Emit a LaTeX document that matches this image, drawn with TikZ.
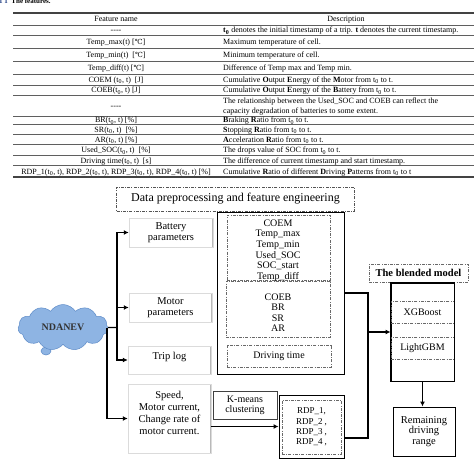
\documentclass[tikz,border=0pt]{standalone}
\usepackage{fontspec}
\setmainfont{Liberation Serif}
\newfontfamily\symfont{DejaVu Serif}
\usetikzlibrary{shapes.symbols,shapes.geometric,shadows,arrows.meta,calc}
\definecolor{cloudfill}{RGB}{142,180,227}
\definecolor{cloudline}{RGB}{95,140,200}
\definecolor{rulegray}{RGB}{95,95,95}
\definecolor{dashgray}{RGB}{105,105,105}
\definecolor{capblue}{RGB}{30,60,130}
\newcommand{\degC}{{\symfont\fontsize{7}{8}\selectfont ℃}}
\newcommand{\tz}{t\textsubscript{0}}
\newcommand{\dashes}{-{}-{}-{}-}
\tikzset{
  tabtext/.style={font=\fontsize{8}{9.5}\selectfont, inner sep=0pt, anchor=base},
  feat/.style={tabtext},
  desc/.style={tabtext, anchor=base west},
  trule/.style={rulegray, line width=0.6pt},
  thickrule/.style={rulegray!70!black, line width=1.8pt},
  ddash/.style={dash pattern=on 3pt off 1.3pt on 0.8pt off 1.3pt, draw=dashgray, line width=0.6pt},
  ddashbox/.style={ddash, text=black, inner sep=0pt, align=center},
  blackbox/.style={draw=black, line width=0.9pt, fill=white, inner sep=0pt, align=center,
     drop shadow={shadow xshift=1.2pt, shadow yshift=-1.2pt, opacity=0.35}},
  sidebox/.style={draw=gray!28, line width=0.5pt, fill=white, inner sep=0pt,
     path picture={\draw[gray!55, line width=2.4pt]
       (path picture bounding box.north west) -- (path picture bounding box.south west)
       (path picture bounding box.north east) -- (path picture bounding box.south east);}},
  boxtext/.style={font=\fontsize{10.5}{11}\selectfont, align=center, inner sep=0pt},
  conn/.style={line width=1.1pt, black},
  arr/.style={conn, -{Latex[length=5pt,width=5pt]}},
}
\begin{document}
\begin{tikzpicture}[x=1pt,y=-1pt]
\useasboundingbox (0,0) rectangle (474,476);

% caption
\node[anchor=base west, inner sep=0pt, font=\fontsize{7}{8}\selectfont\bfseries] (cap) at (-1,4)
  {\textcolor{capblue}{1 1}\ \ The features.};

% table rules
\draw[thickrule] (13,13) -- (474,13);
\foreach \yy in {25,35,48,61,74,85,95,116,124.5,134,144.5,155,165.5}
  \draw[trule] (13,\yy) -- (474,\yy);
\draw[thickrule] (13,177) -- (474,177);

% header
\node[feat] (fh) at (116,21.8) {Feature name};
\node[feat] (dh) at (346,21.8) {Description};

% rows: features
\node[feat] (f1) at (116,32.8) {\dashes};
\node[feat] (f2) at (116,44.3) {Temp\_max(t) [\degC]};
\node[feat] (f3) at (116,57.3) {Temp\_min(t)\ \ [\degC]};
\node[feat] (f4) at (116,70.3) {Temp\_diff(t) [\degC]};
\node[feat] (f5) at (116,82.3) {COEM (\tz, t)\ \ [J]};
\node[feat] (f6) at (116,92.8) {COEB(\tz, t) [J]};
\node[feat] (f7) at (116,108.3) {\dashes};
\node[feat] (f8) at (116,123) {BR(\tz, t) [\%]};
\node[feat] (f9) at (116,132) {SR(\tz, t)\ \ [\%]};
\node[feat] (f10) at (116,142) {AR(\tz, t) [\%]};
\node[feat] (f11) at (116,152.8) {Used\_SOC(\tz, t)\ \ [\%]};
\node[feat] (f12) at (116,163) {Driving time(\tz, t)\ \ [s]};
\node[feat] (f13) at (116,174) {RDP\_1(\tz, t), RDP\_2(\tz, t), RDP\_3(\tz, t), RDP\_4(\tz, t) [\%]};

% rows: descriptions
\node[desc] (d1) at (223,32.8) {\textbf{\tz} denotes the initial timestamp of a trip. \textbf{t} denotes the current timestamp.};
\node[desc] (d2) at (223,44.3) {Maximum temperature of cell.};
\node[desc] (d3) at (223,57.3) {Minimum temperature of cell.};
\node[desc] (d4) at (223,70.3) {Difference of Temp max and Temp min.};
\node[desc] (d5) at (223,82.3) {Cumulative \textbf{O}utput \textbf{E}nergy of the \textbf{M}otor from \tz{} to t.};
\node[desc] (d6) at (223,92.8) {Cumulative \textbf{O}utput \textbf{E}nergy of the \textbf{B}attery from \tz{} to t.};
\node[desc] (d7a) at (223,103.3) {The relationship between the Used\_SOC and COEB can reflect the};
\node[desc] (d7b) at (223,113.8) {capacity degradation of batteries to some extent.};
\node[desc] (d8) at (223,123) {\textbf{B}raking \textbf{R}atio from \tz{} to t.};
\node[desc] (d9) at (223,132) {\textbf{S}topping \textbf{R}atio from \tz{} to t.};
\node[desc] (d10) at (223,142) {\textbf{A}cceleration \textbf{R}atio from \tz{} to t.};
\node[desc] (d11) at (223,152.8) {The drops value of SOC from \tz{} to t.};
\node[desc] (d12) at (223,163) {The difference of current timestamp and start timestamp.};
\node[desc] (d13) at (223,174) {Cumulative \textbf{R}atio of different \textbf{D}riving \textbf{P}atterns from \tz{} to t};

% ===== flowchart =====
\node[ddashbox, draw=dashgray!80!black, minimum width=238pt, minimum height=24pt,
      font=\fontsize{12}{14}\selectfont] (dp) at (235.5,199) {Data preprocessing and feature engineering};

% cloud
\node[ellipse, fill=cloudfill, draw=cloudline, line width=0.5pt, minimum width=10pt, minimum height=8pt, inner sep=0pt] (tail) at (46,351) {};
\node[cloud, cloud puffs=11, cloud puff arc=115, aspect=2, fill=cloudfill, draw=cloudline, line width=0.5pt,
      minimum width=90pt, minimum height=46pt, inner sep=0pt, font=\fontsize{10}{11}\selectfont\bfseries\color{black!80}] (ndanev) at (63,327.5) {NDANEV};

% left boxes
\node[sidebox, boxtext, minimum width=84pt, minimum height=29pt] (battery) at (171,232.5) {Battery\\parameters};
\node[sidebox, boxtext, minimum width=83pt, minimum height=29pt] (motor) at (170.5,307.5) {Motor\\parameters};
\node[sidebox, minimum width=83pt, minimum height=28pt] (triplog) at (169.5,360) {};
\node[boxtext] (triplogtxt) at (169.5,356.5) {Trip log};
\node[sidebox, minimum width=83pt, minimum height=69pt] (speed) at (169.5,418.5) {};
\node[boxtext, font=\fontsize{10.5}{12}\selectfont] (speedtxt) at (169.5,412.5) {Speed,\\Motor current,\\Change rate of\\motor current.};

% main box
\node[blackbox, minimum width=127pt, minimum height=162pt] (main) at (280.5,293) {};
\node[ddashbox, minimum width=103pt, minimum height=65pt] (box1) at (278.5,247.8) {};
\node[align=center, inner sep=0pt, font=\fontsize{10}{10.6}\selectfont] (box1txt) at (278,250.5)
  {COEM\\Temp\_max\\Temp\_min\\Used\_SOC\\SOC\_start\\Temp\_diff};
\node[ddashbox, minimum width=104pt, minimum height=56pt] (box2) at (278,309) {};
\node[align=center, inner sep=0pt, font=\fontsize{10}{10.4}\selectfont] (box2txt) at (278,312.5)
  {COEB\\BR\\SR\\AR};
\node[ddashbox, minimum width=104pt, minimum height=22pt, font=\fontsize{10}{11}\selectfont] (box3) at (279,356) {Driving time};

% blended model
\node[ddashbox, minimum width=99pt, minimum height=18pt, font=\fontsize{10.5}{12}\selectfont\bfseries] (blabel) at (418.5,273) {The blended model};
\node[blackbox, minimum width=63pt, minimum height=98pt] (blended) at (422.5,332) {};
\node[ddashbox, minimum width=63pt, minimum height=22pt, font=\fontsize{10}{11}\selectfont] (xg) at (422.5,312) {XGBoost};
\node[ddashbox, minimum width=63pt, minimum height=22pt, font=\fontsize{10}{11}\selectfont] (lg) at (422.5,348) {LightGBM};
\draw[black, line width=0.9pt] (blended.north west) rectangle (blended.south east);

% remaining
\node[blackbox, minimum width=62pt, minimum height=49pt, font=\fontsize{10.5}{10.6}\selectfont] (remaining) at (424,431.5) {Remaining\\driving\\range};

% k-means
\node[draw=black!75, line width=0.6pt, fill=white, inner sep=0pt, align=center,
      drop shadow={shadow xshift=1pt, shadow yshift=-1pt, opacity=0.2},
      minimum width=64pt, minimum height=28pt, font=\fontsize{10}{10.2}\selectfont] (kmeans) at (245,405) {K-means\\clustering};

% RDP
\node[blackbox, minimum width=65pt, minimum height=63pt] (rdp) at (311.5,426.5) {};
\node[ddashbox, minimum width=59pt, minimum height=54pt, font=\fontsize{9}{10.3}\selectfont] (rdpin) at (311.5,427)
  {RDP\_1,\\RDP\_2 ,\\RDP\_3 ,\\RDP\_4 ,};

% connectors
\coordinate (j1) at (117,327.5);
\coordinate (j2) at (107,327.5);
\coordinate (j3) at (368,332);
\draw[conn] (ndanev.east) -- (j1);
\draw[arr] (j1) |- (battery.west);
\draw[arr] (j1) |- (motor.west);
\draw[arr] (j1) |- (triplog.west);
\draw[arr] (j2) |- (speed.west);
\draw[conn] (main.east) -| (j3);
\draw[arr] (j3) -- (blended.west);
\draw[conn] ([yshift=-11.5pt]rdp.east) -| (j3);
\draw[arr] (speed.east |- rdp.west) -- (rdp.west);
\draw[arr] (blended.south) -- (blended.south |- remaining.north);
\end{tikzpicture}
\end{document}
